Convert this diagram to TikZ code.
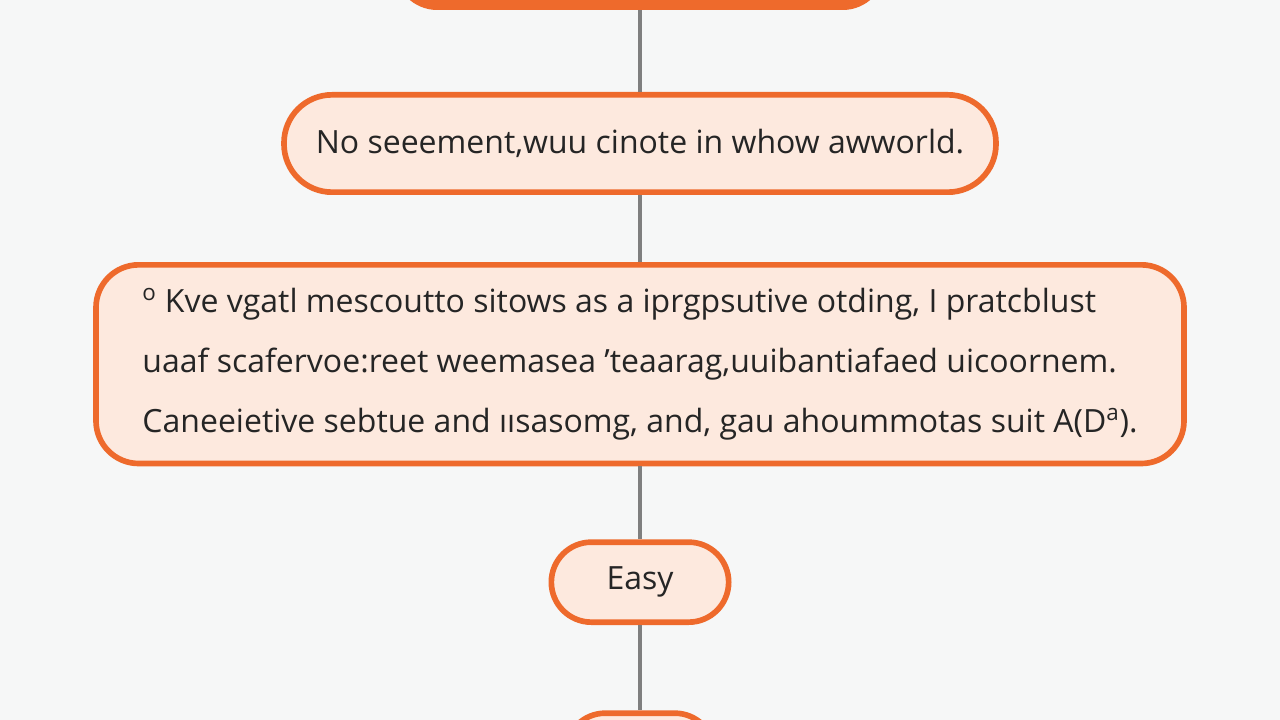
\documentclass[tikz,border=0pt]{standalone}
\usepackage{fontspec}
\setmainfont{Open Sans}
\usepackage{xcolor}
\usetikzlibrary{
	arrows.meta,
	positioning,
	}
\definecolor{bgcol}{HTML}{F6F7F7}
\definecolor{orng}{HTML}{EE6A2C}
\definecolor{peach}{HTML}{FDE9DE}
\definecolor{txtcol}{HTML}{252525}
\definecolor{linkcol}{HTML}{7F7F7F}
\tikzset{
	box/.style={draw=orng, line width=4.25pt, fill=peach, text=txtcol,
		font=\fontsize{24}{45}\selectfont},
	pill/.style={box, rounded corners=36pt},
	link/.style={draw=linkcol, line width=2.6pt},
}

\begin{document}
\begin{tikzpicture}
		\fill[bgcol] (0pt,0pt) rectangle (960pt,-540pt);
		\useasboundingbox (0pt,0pt) rectangle (960pt,-540pt);
		\node[box, fill=orng, rounded corners=30pt, minimum width=364pt, minimum height=60pt, anchor=south] (head) at (480pt,-7.5pt) {};
		\node[pill, minimum width=534pt, minimum height=73pt, below = 61.5pt of head] (claim) {No seeement,wuu cinote in whow awworld.};
		\node[box, rounded corners=32pt, minimum width=816pt, minimum height=149pt, align=left, below = 50.25pt of claim] (story) {\textsuperscript{o} Kve vgatl mescoutto sitows as a iprgpsutive otding, I pratcblust\\uaaf scafervoe:reet weemasea 'teaarag,uuibantiafaed uicoornem.\\Caneeietive sebtue and ıısasomg, and, gau ahoummotas suit A(D\textsuperscript{a}).};
		\node[pill, rounded corners=30pt, minimum width=133pt, minimum height=60pt, below = 54.75pt of story] (easy) {Easy};
		\node[pill, rounded corners=30pt, minimum width=112pt, minimum height=63pt, below = 64pt of easy] (next) {};
		\draw[link] (head) -- (claim);
		\draw[link] (claim) -- (story);
		\draw[link] (story) -- (easy);
		\draw[link] (easy) -- (next);
	\end{tikzpicture}
\end{document}
